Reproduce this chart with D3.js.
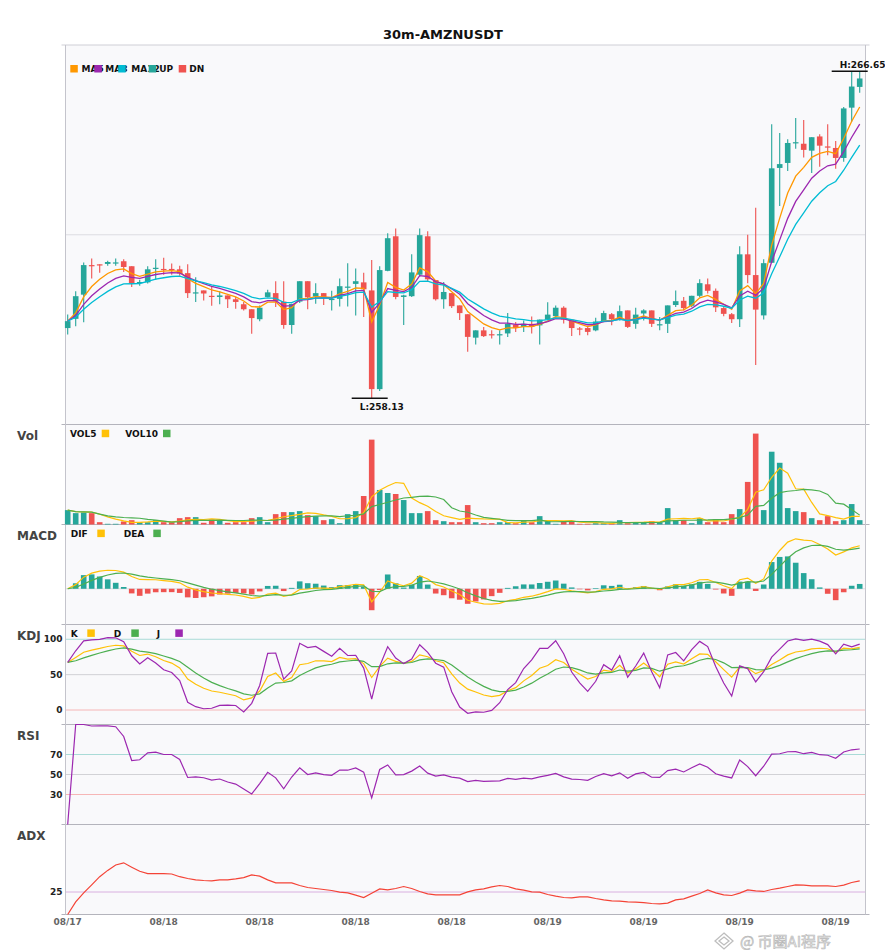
<!DOCTYPE html>
<html>
<head>
<meta charset="utf-8">
<script src="https://cdn.jsdelivr.net/npm/d3@7"></script>
<style>
  body { margin: 0; background: #fff; }
  svg { display: block; font-family: 'DejaVu Sans', sans-serif; }
</style>
</head>
<body>
<div id="chart"></div>
<script>
// 30m candles, AMZNUSDT
var open = [259.96,260.20,260.83,261.60,261.62,261.63,261.65,261.70,261.57,261.13,
  261.15,261.51,261.50,261.50,261.49,261.39,260.88,260.94,260.80,260.77,
  260.81,260.71,260.58,260.45,260.19,260.77,260.87,260.65,260.04,260.65,
  261.18,260.78,260.87,260.71,260.72,261.03,261.11,261.15,260.94,258.37,
  261.45,262.35,260.77,260.79,261.35,262.35,261.21,260.71,260.87,260.55,
  260.32,259.71,259.90,259.80,259.78,259.82,260.05,259.99,260.07,260.03,
  260.18,260.27,260.49,260.18,259.95,259.96,259.90,260.13,260.32,260.20,
  260.42,260.07,260.34,260.42,260.04,260.07,260.56,260.67,260.54,260.80,
  261.10,260.93,260.48,260.32,260.19,261.88,261.34,260.29,261.66,264.13,
  264.26,264.79,264.76,264.58,264.95,264.69,264.65,264.39,265.70,266.24];
var high = [260.31,260.92,261.67,261.77,261.62,261.71,261.77,261.75,261.57,261.22,
  261.57,261.75,261.79,261.64,261.58,261.62,261.28,260.94,261.03,260.92,
  260.81,260.77,260.64,260.45,260.55,260.96,261.18,261.18,260.59,261.18,
  261.18,261.13,260.87,260.93,261.25,261.65,261.51,261.40,261.73,261.57,
  262.43,262.55,260.83,261.88,262.55,262.48,261.21,261.16,260.87,260.55,
  260.32,259.90,259.99,259.90,259.90,260.35,260.12,260.16,260.26,260.18,
  260.63,260.55,260.53,260.18,259.99,260.01,260.23,260.41,260.35,260.55,
  260.42,260.49,260.45,260.42,260.25,260.55,260.94,260.77,260.80,261.23,
  261.25,260.99,260.53,260.35,262.09,262.39,263.09,261.75,265.27,265.04,
  264.88,265.43,265.38,264.93,265.01,265.27,264.83,265.72,266.65,266.63];
var low = [259.79,260.01,260.11,261.25,261.40,261.58,261.58,261.42,261.03,261.06,
  261.12,261.21,261.35,261.35,261.32,260.74,260.64,260.68,260.54,260.58,
  260.48,260.46,260.42,259.81,260.14,260.76,260.51,259.94,259.81,260.61,
  260.45,260.59,260.56,260.42,260.52,260.52,260.29,260.25,258.13,258.32,
  261.44,260.71,260.04,260.77,261.31,261.18,260.68,260.46,260.48,260.17,
  259.34,259.53,259.73,259.69,259.53,259.73,259.86,259.86,259.82,259.53,
  260.16,260.23,260.08,259.75,259.77,259.77,259.88,260.11,260.03,260.16,
  259.96,259.94,260.16,259.99,259.90,259.83,260.51,260.42,260.50,260.77,
  260.86,260.38,260.27,260.09,259.99,261.13,259.00,260.18,261.66,263.14,
  264.05,264.63,264.40,264.00,264.16,264.46,264.11,264.29,265.33,266.09];
var close = [260.14,260.79,261.60,261.58,261.61,261.68,261.67,261.55,261.13,261.16,
  261.49,261.53,261.48,261.48,261.38,260.87,260.89,260.86,260.78,260.81,
  260.71,260.64,260.45,260.22,260.49,260.89,260.66,260.04,260.59,261.18,
  260.76,260.87,260.76,260.72,261.05,261.04,261.18,260.97,258.37,261.47,
  262.30,260.77,260.81,261.41,262.38,261.23,260.71,260.90,260.53,260.35,
  259.73,259.90,259.75,259.78,259.80,260.07,259.96,260.07,259.99,260.18,
  260.31,260.49,260.18,259.96,259.93,259.86,260.13,260.35,260.19,260.40,
  259.99,260.31,260.42,260.07,260.06,260.55,260.66,260.48,260.80,261.13,
  260.93,260.50,260.33,260.19,261.88,261.34,260.44,261.65,264.12,264.23,
  264.78,264.80,264.60,264.93,264.71,264.66,264.39,265.68,266.25,266.46];
var volume = [14.3,11.3,12,11.3,2.3,0.7,0.7,3,4.3,2.3,
  2.3,4.3,2.3,2.3,6.3,7.3,7.3,1.7,5,3.7,
  1.7,2.3,2.3,6.3,7.3,2.3,10.3,12.3,12.3,13.3,
  9.3,8.3,4.3,5.3,1.3,10.3,13.3,28.3,84.3,34.3,
  31.3,30.3,24.3,11.3,11.3,13.3,4.3,3.3,2.3,2.3,
  19.3,2.3,1.3,1.3,2.3,2.3,1.3,4.3,2.3,8.3,
  3.3,0.7,3.3,3.3,0.7,0.7,1.3,1.3,1.3,4.3,
  1.3,2.3,2.3,3.3,2.3,16.3,4.3,4.3,1.3,6.3,
  2.3,5.3,2.3,10.3,15.3,42.3,90.3,14.3,72.3,61.3,
  16.3,13.3,12.3,6.3,4.3,8.3,3.3,4.3,20.3,4.3];
var adx = [0,14,24,33,42,49,55,57.4,52.6,48,
  45.5,45.5,45.5,45,42,40,38.5,37.8,37.4,38.5,
  38.5,39.6,41,44,42.6,38.5,35.2,35.2,35.2,32.2,
  30,28.9,27.8,26.7,24.8,24,21.5,18.9,23.7,28.5,
  27.4,28.9,31.1,28.9,25.6,23,21.9,21.9,21.9,21.9,
  25.2,27.4,28.5,30.7,32.2,31.1,28.5,27,25.2,24.8,
  22.2,20.4,18.9,18.5,19.6,19.6,17.8,16.3,15.2,14.8,
  14.1,13.7,13.3,12.2,11.9,12.6,16.3,17.4,20.4,23.3,
  27.4,24,21.9,21.1,23.7,27.4,26.3,25.6,27.8,29.3,
  31.1,33,32.6,31.9,31.9,31.9,31.1,32.6,35.6,37.4];
var tickIndex = [0, 12, 24, 36, 48, 60, 72, 84, 96];
var tickLabels = ['08/17','08/18','08/18','08/18','08/18','08/19','08/19','08/19','08/19'];
var maPeriods = [5, 8, 12];
var macdPeriods = [6, 13, 5];
var kdjTicks = [100, 50, 0];
var rsiTicks = [70, 50, 30];
var adxTicks = [25];

var UP = '#26a69a', DN = '#ef5350';
var W = 885, H = 950, left = 65.5, right = 865.5;
var n = close.length;

// panels: top / bottom
var pPrice = [45, 424.5], pVol = [424.5, 524.5], pMacd = [524.5, 624.5],
    pKdj = [624.5, 724.5], pRsi = [724.5, 824.5], pAdx = [824.5, 914.5];

// ---- indicators ----
function ema(arr, p) {
  var a = 2 / (p + 1), out = [], prev = arr[0];
  arr.forEach(function(v, i) { prev = i === 0 ? v : prev + a * (v - prev); out.push(prev); });
  return out;
}
function sma(arr, p) {
  return arr.map(function(v, i) { return d3.mean(arr.slice(Math.max(0, i - p + 1), i + 1)); });
}
var maLines = maPeriods.map(function(p) { return ema(close, p); });
var vol5 = sma(volume, 5), vol10 = sma(volume, 10);

var emaFast = ema(close, macdPeriods[0]), emaSlow = ema(close, macdPeriods[1]);
var dif = emaFast.map(function(v, i) { return v - emaSlow[i]; });
var dea = ema(dif, macdPeriods[2]);
var hist = dif.map(function(v, i) { return 2 * (v - dea[i]); });

var K = [], D = [], J = [], kp, dp;
for (var i = 0; i < n; i++) {
  var lo = d3.min(low.slice(Math.max(0, i - 8), i + 1)), hi = d3.max(high.slice(Math.max(0, i - 8), i + 1));
  var rsv = hi === lo ? 50 : (close[i] - lo) / (hi - lo) * 100;
  if (i === 0) { kp = rsv; dp = rsv; }
  kp = (2 * kp + rsv) / 3; dp = (2 * dp + kp) / 3;
  K.push(kp); D.push(dp); J.push(3 * kp - 2 * dp);
}

var rsi = [0], ag = 0, al = 0;
for (var j = 1; j < n; j++) {
  var ch = close[j] - close[j - 1];
  ag = (ag * 13 + Math.max(ch, 0)) / 14;
  al = (al * 13 + Math.max(-ch, 0)) / 14;
  rsi.push(ag + al === 0 ? 0 : 100 * ag / (ag + al));
}

// ---- scales ----
var x = d3.scaleLinear().domain([0, n]).range([left, right]);
var bw = 5.6;
function cx(i) { return x(i) + 2.2; }

var pMin = d3.min(low), pMax = d3.max(high), pr = pMax - pMin;
var yPrice = d3.scaleLinear().domain([pMin - 0.08 * pr, pMax + 0.08 * pr]).range([pPrice[1], pPrice[0]]);
var yVol = d3.scaleLinear().domain([0, d3.max(volume) * 1.1]).range([pVol[1], pVol[0]]);
var mAll = dif.concat(dea, hist), mMin = d3.min(mAll), mMax = d3.max(mAll), mr = mMax - mMin;
var yMacd = d3.scaleLinear().domain([mMin - 0.2 * mr, mMax + 0.2 * mr]).range([pMacd[1], pMacd[0]]);
var yKdj = d3.scaleLinear().domain([-20.5, 120.9]).range([pKdj[1], pKdj[0]]);
var yRsi = d3.scaleLinear().domain([0, 100]).range([pRsi[1], pRsi[0]]);
var yAdx = d3.scaleLinear().domain([0, 100]).range([pAdx[1], pAdx[0]]);

var svg = d3.select('#chart').append('svg').attr('width', W).attr('height', H);
svg.append('rect').attr('width', W).attr('height', H).attr('fill', '#fff');

// title
svg.append('text').attr('x', 443).attr('y', 39).attr('text-anchor', 'middle')
  .attr('font-size', 13).attr('font-weight', 'bold').attr('fill', '#111').text('30m-AMZNUSDT');

// panel backgrounds
[pPrice, pVol, pMacd, pKdj, pRsi, pAdx].forEach(function(p) {
  svg.append('rect').attr('x', left).attr('y', p[0]).attr('width', right - left).attr('height', p[1] - p[0])
    .attr('fill', '#f9f9fb');
});

// grid lines
svg.append('line').attr('x1', left).attr('x2', right).attr('y1', (pPrice[0] + pPrice[1]) / 2).attr('y2', (pPrice[0] + pPrice[1]) / 2)
  .attr('stroke', '#dcdce2').attr('stroke-width', 1);
svg.append('line').attr('x1', left).attr('x2', right).attr('y1', yMacd(0)).attr('y2', yMacd(0))
  .attr('stroke', '#dcdce2').attr('stroke-width', 1);
var gridColors = { hi: '#a9dbd7', mid: '#d2d2d6', lo: '#f6b6b6' };
function hGrid(scale, ticks, colors) {
  ticks.forEach(function(t, k) {
    svg.append('line').attr('x1', left).attr('x2', right).attr('y1', scale(t)).attr('y2', scale(t))
      .attr('stroke', colors[k]).attr('stroke-width', 1);
    svg.append('text').attr('x', 62.5).attr('y', scale(t)).attr('dy', '0.35em').attr('text-anchor', 'end')
      .attr('font-size', 9).attr('font-weight', 'bold').attr('fill', '#222').text(t);
  });
}
hGrid(yKdj, kdjTicks, [gridColors.hi, gridColors.mid, gridColors.lo]);
hGrid(yRsi, rsiTicks, [gridColors.hi, gridColors.mid, gridColors.lo]);
hGrid(yAdx, adxTicks, ['#d9b0e0']);

// borders
var borderY = [pPrice[0], pVol[0], pMacd[0], pKdj[0], pRsi[0], pAdx[0], pAdx[1]];
borderY.forEach(function(by, k) {
  svg.append('line').attr('x1', left - 4).attr('x2', right + 4).attr('y1', by).attr('y2', by)
    .attr('stroke', k === 0 ? '#cfcfd6' : '#b4b4bc').attr('stroke-width', 1);
});
[left, right].forEach(function(bx) {
  svg.append('line').attr('x1', bx).attr('x2', bx).attr('y1', pPrice[0]).attr('y2', pAdx[1])
    .attr('stroke', '#c4c4cc').attr('stroke-width', 1);
});

var idx = d3.range(n);
function isUp(i) { return close[i] >= open[i]; }

// ---- candles ----
var gC = svg.append('g');
gC.selectAll('line.wick').data(idx).join('line')
  .attr('x1', cx).attr('x2', cx)
  .attr('y1', function(i) { return yPrice(high[i]); })
  .attr('y2', function(i) { return yPrice(low[i]); })
  .attr('stroke', function(i) { return isUp(i) ? UP : DN; }).attr('stroke-width', 1.1);
gC.selectAll('rect.body').data(idx).join('rect')
  .attr('x', function(i) { return cx(i) - bw / 2; })
  .attr('width', bw)
  .attr('y', function(i) { return yPrice(Math.max(open[i], close[i])); })
  .attr('height', function(i) { return Math.max(1.2, Math.abs(yPrice(open[i]) - yPrice(close[i]))); })
  .attr('fill', function(i) { return isUp(i) ? UP : DN; });

// MA lines
var maColors = ['#ff9800', '#9c27b0', '#00bcd4'];
maLines.forEach(function(ma, k) {
  svg.append('path').datum(ma)
    .attr('d', d3.line().x(function(d, i) { return cx(i); }).y(function(d) { return yPrice(d); }))
    .attr('fill', 'none').attr('stroke', maColors[k]).attr('stroke-width', 1.3);
});

// high / low markers
var iHi = d3.maxIndex(high), iLo = d3.minIndex(low);
svg.append('line').attr('x1', cx(iHi) - 20).attr('x2', cx(iHi) + 16).attr('y1', yPrice(high[iHi])).attr('y2', yPrice(high[iHi]))
  .attr('stroke', '#111').attr('stroke-width', 1.5);
svg.append('text').attr('x', cx(iHi) - 12).attr('y', yPrice(high[iHi]) - 3)
  .attr('font-size', 9).attr('font-weight', 'bold').attr('fill', '#111').text('H:' + high[iHi].toFixed(2));
svg.append('line').attr('x1', cx(iLo) - 20).attr('x2', cx(iLo) + 16).attr('y1', yPrice(low[iLo])).attr('y2', yPrice(low[iLo]))
  .attr('stroke', '#111').attr('stroke-width', 1.5);
svg.append('text').attr('x', cx(iLo) - 12).attr('y', yPrice(low[iLo]) + 12)
  .attr('font-size', 9).attr('font-weight', 'bold').attr('fill', '#111').text('L:' + low[iLo].toFixed(2));

// ---- volume ----
svg.append('g').selectAll('rect').data(idx).join('rect')
  .attr('x', function(i) { return cx(i) - bw / 2; }).attr('width', bw)
  .attr('y', function(i) { return yVol(volume[i]); })
  .attr('height', function(i) { return yVol(0) - yVol(volume[i]); })
  .attr('fill', function(i) { return isUp(i) ? UP : DN; });

function drawLine(data, scale, color, w) {
  svg.append('path').datum(data)
    .attr('d', d3.line().x(function(d, i) { return cx(i); }).y(function(d) { return scale(d); }))
    .attr('fill', 'none').attr('stroke', color).attr('stroke-width', w || 1.2);
}
drawLine(vol5, yVol, '#ffc107');
drawLine(vol10, yVol, '#4caf50');

// ---- MACD ----
svg.append('g').selectAll('rect').data(idx).join('rect')
  .attr('x', function(i) { return cx(i) - bw / 2; }).attr('width', bw)
  .attr('y', function(i) { return Math.min(yMacd(0), yMacd(hist[i])); })
  .attr('height', function(i) { return Math.abs(yMacd(0) - yMacd(hist[i])); })
  .attr('fill', function(i) { return hist[i] >= 0 ? UP : DN; });
drawLine(dif, yMacd, '#ffc107');
drawLine(dea, yMacd, '#4caf50');

// ---- KDJ / RSI / ADX ----
drawLine(K, yKdj, '#ffc107');
drawLine(D, yKdj, '#4caf50');
drawLine(J, yKdj, '#9c27b0');
drawLine(rsi, yRsi, '#9c27b0');
drawLine(adx, yAdx, '#f44336');

// ---- panel titles ----
[['Vol', pVol], ['MACD', pMacd], ['KDJ', pKdj], ['RSI', pRsi], ['ADX', pAdx]].forEach(function(t) {
  svg.append('text').attr('x', 17).attr('y', t[1][0] + 15).attr('font-size', 12).attr('font-weight', 'bold')
    .attr('fill', '#444').text(t[0]);
});

// ---- legends ----
function legendText(xp, yp, txt) {
  svg.append('text').attr('x', xp).attr('y', yp).attr('font-size', 9).attr('font-weight', 'bold').attr('fill', '#111').text(txt);
}
function legendBox(xp, yp, color) {
  svg.append('rect').attr('x', xp).attr('y', yp).attr('width', 7.5).attr('height', 7.5).attr('fill', color);
}
var topLegend = [['MA5', maColors[0], 70.3, 81.5], ['MA8', maColors[1], 94.3, 105.3],
  ['MA12', maColors[2], 118.2, 131.3], ['UP', UP, 148.7, 159.3], ['DN', DN, 178.7, 189.3]];
topLegend.forEach(function(l) { legendText(l[3], 72.3, l[0]); });
topLegend.forEach(function(l) { legendBox(l[2], 65, l[1]); });

[['VOL5', '#ffc107', 70, 101.7], ['VOL10', '#4caf50', 125.3, 163]].forEach(function(l) {
  legendText(l[2], 437.3, l[0]); legendBox(l[3], 429.7, l[1]);
});
[['DIF', '#ffc107', 70.7, 97.3], ['DEA', '#4caf50', 123.7, 153.3]].forEach(function(l) {
  legendText(l[2], 537, l[0]); legendBox(l[3], 529.6, l[1]);
});
[['K', '#ffc107', 70.7, 87.3], ['D', '#4caf50', 113.7, 131.3], ['J', '#9c27b0', 156.7, 175.3]].forEach(function(l) {
  legendText(l[2], 636.7, l[0]); legendBox(l[3], 629.4, l[1]);
});

// ---- x axis labels ----
tickIndex.forEach(function(ti, k) {
  svg.append('text').attr('x', cx(ti)).attr('y', 925).attr('text-anchor', 'middle')
    .attr('font-size', 9).attr('font-weight', 'bold').attr('fill', '#666').text(tickLabels[k]);
});

// ---- watermark (kept just under the date labels) ----
var wm = svg.append('g').attr('opacity', 0.75);
wm.append('path').attr('d', 'M724,933 L733,941 L724,949 L715,941 Z M724,937 L729,941 L724,945 L719,941 Z')
  .attr('fill', 'none').attr('stroke', '#a8a8a8').attr('stroke-width', 1.3);
wm.append('text').attr('x', 740).attr('y', 947).attr('font-size', 15)
  .attr('font-family', "'Noto Sans CJK SC', sans-serif")
  .attr('fill', '#e2e2e2').attr('stroke', '#a0a0a0').attr('stroke-width', 0.6).text('@ 币圈AI程序');
</script>
</body>
</html>
